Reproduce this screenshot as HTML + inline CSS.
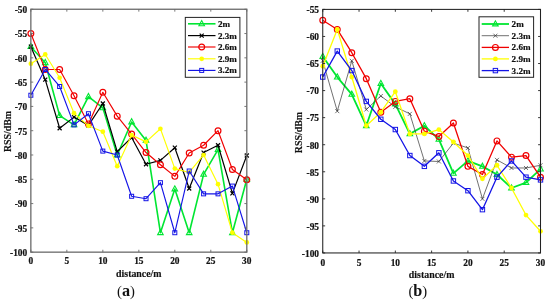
<!DOCTYPE html>
<html><head><meta charset="utf-8"><title>RSS vs distance</title>
<style>
html,body{margin:0;padding:0;background:#fff}
svg{display:block}
text{font-family:"Liberation Serif",serif;fill:#111}
.tk{font-size:9.4px;font-weight:bold;stroke:#111;stroke-width:0.2px}
.lg{font-size:9.1px;font-weight:bold;stroke:#111;stroke-width:0.2px}
.lb{font-size:9.9px;font-weight:bold;stroke:#111;stroke-width:0.15px}
.cp{font-size:14.7px}
</style></head><body>
<svg width="550" height="302" viewBox="0 0 550 302">
<rect width="550" height="302" fill="#fff"/>
<g>
<polyline points="30.85,46.66 45.25,62.69 59.64,115.64 74.04,124.87 88.44,96.69 102.83,107.87 117.23,154.99 131.63,121.96 146.02,140.42 160.42,232.72 174.82,189.00 189.21,232.72 203.61,174.42 218.01,149.65 232.40,232.72 246.80,179.28" fill="none" stroke="#00e632" stroke-width="1.6" stroke-linejoin="round"/>
<path d="M28.05 48.56L33.65 48.56L30.85 43.46Z" fill="none" stroke="#00e632" stroke-width="1.1"/>
<path d="M42.45 64.59L48.05 64.59L45.25 59.49Z" fill="none" stroke="#00e632" stroke-width="1.1"/>
<path d="M56.84 117.54L62.44 117.54L59.64 112.44Z" fill="none" stroke="#00e632" stroke-width="1.1"/>
<path d="M71.24 126.77L76.84 126.77L74.04 121.67Z" fill="none" stroke="#00e632" stroke-width="1.1"/>
<path d="M85.64 98.59L91.24 98.59L88.44 93.49Z" fill="none" stroke="#00e632" stroke-width="1.1"/>
<path d="M100.03 109.77L105.63 109.77L102.83 104.67Z" fill="none" stroke="#00e632" stroke-width="1.1"/>
<path d="M114.43 156.89L120.03 156.89L117.23 151.79Z" fill="none" stroke="#00e632" stroke-width="1.1"/>
<path d="M128.83 123.86L134.43 123.86L131.63 118.76Z" fill="none" stroke="#00e632" stroke-width="1.1"/>
<path d="M143.22 142.32L148.82 142.32L146.02 137.22Z" fill="none" stroke="#00e632" stroke-width="1.1"/>
<path d="M157.62 234.62L163.22 234.62L160.42 229.52Z" fill="none" stroke="#00e632" stroke-width="1.1"/>
<path d="M172.02 190.90L177.62 190.90L174.82 185.80Z" fill="none" stroke="#00e632" stroke-width="1.1"/>
<path d="M186.41 234.62L192.01 234.62L189.21 229.52Z" fill="none" stroke="#00e632" stroke-width="1.1"/>
<path d="M200.81 176.32L206.41 176.32L203.61 171.22Z" fill="none" stroke="#00e632" stroke-width="1.1"/>
<path d="M215.21 151.55L220.81 151.55L218.01 146.45Z" fill="none" stroke="#00e632" stroke-width="1.1"/>
<path d="M229.60 234.62L235.20 234.62L232.40 229.52Z" fill="none" stroke="#00e632" stroke-width="1.1"/>
<path d="M244.00 181.18L249.60 181.18L246.80 176.08Z" fill="none" stroke="#00e632" stroke-width="1.1"/>
<polyline points="30.85,46.66 45.25,79.69 59.64,128.27 74.04,117.10 88.44,125.36 102.83,103.50 117.23,151.59 131.63,137.50 146.02,164.22 160.42,160.33 174.82,147.70 189.21,188.51 203.61,152.56 218.01,145.27 232.40,193.37 246.80,155.48" fill="none" stroke="#000" stroke-width="1.2" stroke-linejoin="round"/>
<path d="M28.85 44.66L32.85 48.66M28.85 48.66L32.85 44.66" fill="none" stroke="#000" stroke-width="1.2"/>
<path d="M43.25 77.69L47.25 81.69M43.25 81.69L47.25 77.69" fill="none" stroke="#000" stroke-width="1.2"/>
<path d="M57.64 126.27L61.64 130.27M57.64 130.27L61.64 126.27" fill="none" stroke="#000" stroke-width="1.2"/>
<path d="M72.04 115.10L76.04 119.10M72.04 119.10L76.04 115.10" fill="none" stroke="#000" stroke-width="1.2"/>
<path d="M86.44 123.36L90.44 127.36M86.44 127.36L90.44 123.36" fill="none" stroke="#000" stroke-width="1.2"/>
<path d="M100.83 101.50L104.83 105.50M100.83 105.50L104.83 101.50" fill="none" stroke="#000" stroke-width="1.2"/>
<path d="M115.23 149.59L119.23 153.59M115.23 153.59L119.23 149.59" fill="none" stroke="#000" stroke-width="1.2"/>
<path d="M129.63 135.50L133.63 139.50M129.63 139.50L133.63 135.50" fill="none" stroke="#000" stroke-width="1.2"/>
<path d="M144.02 162.22L148.02 166.22M144.02 166.22L148.02 162.22" fill="none" stroke="#000" stroke-width="1.2"/>
<path d="M158.42 158.33L162.42 162.33M158.42 162.33L162.42 158.33" fill="none" stroke="#000" stroke-width="1.2"/>
<path d="M172.82 145.70L176.82 149.70M172.82 149.70L176.82 145.70" fill="none" stroke="#000" stroke-width="1.2"/>
<path d="M187.21 186.51L191.21 190.51M187.21 190.51L191.21 186.51" fill="none" stroke="#000" stroke-width="1.2"/>
<path d="M201.61 150.56L205.61 154.56M201.61 154.56L205.61 150.56" fill="none" stroke="#000" stroke-width="1.2"/>
<path d="M216.01 143.27L220.01 147.27M216.01 147.27L220.01 143.27" fill="none" stroke="#000" stroke-width="1.2"/>
<path d="M230.40 191.37L234.40 195.37M230.40 195.37L234.40 191.37" fill="none" stroke="#000" stroke-width="1.2"/>
<path d="M244.80 153.48L248.80 157.48M244.80 157.48L248.80 153.48" fill="none" stroke="#000" stroke-width="1.2"/>
<polyline points="30.85,33.54 45.25,69.49 59.64,69.49 74.04,95.72 88.44,123.90 102.83,92.32 117.23,116.13 131.63,134.10 146.02,152.56 160.42,164.71 174.82,176.37 189.21,153.05 203.61,145.27 218.01,130.70 232.40,169.56 246.80,179.77" fill="none" stroke="#f00000" stroke-width="1.15" stroke-linejoin="round"/>
<circle cx="30.85" cy="33.54" r="2.9" fill="none" stroke="#f00000" stroke-width="1.2"/>
<circle cx="45.25" cy="69.49" r="2.9" fill="none" stroke="#f00000" stroke-width="1.2"/>
<circle cx="59.64" cy="69.49" r="2.9" fill="none" stroke="#f00000" stroke-width="1.2"/>
<circle cx="74.04" cy="95.72" r="2.9" fill="none" stroke="#f00000" stroke-width="1.2"/>
<circle cx="88.44" cy="123.90" r="2.9" fill="none" stroke="#f00000" stroke-width="1.2"/>
<circle cx="102.83" cy="92.32" r="2.9" fill="none" stroke="#f00000" stroke-width="1.2"/>
<circle cx="117.23" cy="116.13" r="2.9" fill="none" stroke="#f00000" stroke-width="1.2"/>
<circle cx="131.63" cy="134.10" r="2.9" fill="none" stroke="#f00000" stroke-width="1.2"/>
<circle cx="146.02" cy="152.56" r="2.9" fill="none" stroke="#f00000" stroke-width="1.2"/>
<circle cx="160.42" cy="164.71" r="2.9" fill="none" stroke="#f00000" stroke-width="1.2"/>
<circle cx="174.82" cy="176.37" r="2.9" fill="none" stroke="#f00000" stroke-width="1.2"/>
<circle cx="189.21" cy="153.05" r="2.9" fill="none" stroke="#f00000" stroke-width="1.2"/>
<circle cx="203.61" cy="145.27" r="2.9" fill="none" stroke="#f00000" stroke-width="1.2"/>
<circle cx="218.01" cy="130.70" r="2.9" fill="none" stroke="#f00000" stroke-width="1.2"/>
<circle cx="232.40" cy="169.56" r="2.9" fill="none" stroke="#f00000" stroke-width="1.2"/>
<circle cx="246.80" cy="179.77" r="2.9" fill="none" stroke="#f00000" stroke-width="1.2"/>
<polyline points="30.85,63.66 45.25,54.43 59.64,77.75 74.04,113.21 88.44,125.84 102.83,131.67 117.23,166.16 131.63,135.07 146.02,141.87 160.42,128.76 174.82,168.59 189.21,172.48 203.61,154.99 218.01,184.14 232.40,232.72 246.80,242.43" fill="none" stroke="#ffff00" stroke-width="1.15" stroke-linejoin="round"/>
<circle cx="30.85" cy="63.66" r="2.35" fill="#ffff00"/>
<circle cx="45.25" cy="54.43" r="2.35" fill="#ffff00"/>
<circle cx="59.64" cy="77.75" r="2.35" fill="#ffff00"/>
<circle cx="74.04" cy="113.21" r="2.35" fill="#ffff00"/>
<circle cx="88.44" cy="125.84" r="2.35" fill="#ffff00"/>
<circle cx="102.83" cy="131.67" r="2.35" fill="#ffff00"/>
<circle cx="117.23" cy="166.16" r="2.35" fill="#ffff00"/>
<circle cx="131.63" cy="135.07" r="2.35" fill="#ffff00"/>
<circle cx="146.02" cy="141.87" r="2.35" fill="#ffff00"/>
<circle cx="160.42" cy="128.76" r="2.35" fill="#ffff00"/>
<circle cx="174.82" cy="168.59" r="2.35" fill="#ffff00"/>
<circle cx="189.21" cy="172.48" r="2.35" fill="#ffff00"/>
<circle cx="203.61" cy="154.99" r="2.35" fill="#ffff00"/>
<circle cx="218.01" cy="184.14" r="2.35" fill="#ffff00"/>
<circle cx="232.40" cy="232.72" r="2.35" fill="#ffff00"/>
<circle cx="246.80" cy="242.43" r="2.35" fill="#ffff00"/>
<polyline points="30.85,95.24 45.25,69.49 59.64,86.49 74.04,124.87 88.44,113.70 102.83,151.10 117.23,154.99 131.63,196.28 146.02,198.71 160.42,182.68 174.82,232.72 189.21,171.02 203.61,193.85 218.01,193.85 232.40,186.08 246.80,232.72" fill="none" stroke="#1414e6" stroke-width="1.15" stroke-linejoin="round"/>
<rect x="28.85" y="93.24" width="4.00" height="4.00" fill="none" stroke="#1414e6" stroke-width="1"/>
<rect x="43.25" y="67.49" width="4.00" height="4.00" fill="none" stroke="#1414e6" stroke-width="1"/>
<rect x="57.64" y="84.49" width="4.00" height="4.00" fill="none" stroke="#1414e6" stroke-width="1"/>
<rect x="72.04" y="122.87" width="4.00" height="4.00" fill="none" stroke="#1414e6" stroke-width="1"/>
<rect x="86.44" y="111.70" width="4.00" height="4.00" fill="none" stroke="#1414e6" stroke-width="1"/>
<rect x="100.83" y="149.10" width="4.00" height="4.00" fill="none" stroke="#1414e6" stroke-width="1"/>
<rect x="115.23" y="152.99" width="4.00" height="4.00" fill="none" stroke="#1414e6" stroke-width="1"/>
<rect x="129.63" y="194.28" width="4.00" height="4.00" fill="none" stroke="#1414e6" stroke-width="1"/>
<rect x="144.02" y="196.71" width="4.00" height="4.00" fill="none" stroke="#1414e6" stroke-width="1"/>
<rect x="158.42" y="180.68" width="4.00" height="4.00" fill="none" stroke="#1414e6" stroke-width="1"/>
<rect x="172.82" y="230.72" width="4.00" height="4.00" fill="none" stroke="#1414e6" stroke-width="1"/>
<rect x="187.21" y="169.02" width="4.00" height="4.00" fill="none" stroke="#1414e6" stroke-width="1"/>
<rect x="201.61" y="191.85" width="4.00" height="4.00" fill="none" stroke="#1414e6" stroke-width="1"/>
<rect x="216.01" y="191.85" width="4.00" height="4.00" fill="none" stroke="#1414e6" stroke-width="1"/>
<rect x="230.40" y="184.08" width="4.00" height="4.00" fill="none" stroke="#1414e6" stroke-width="1"/>
<rect x="244.80" y="230.72" width="4.00" height="4.00" fill="none" stroke="#1414e6" stroke-width="1"/>
<rect x="30.85" y="9.25" width="215.95" height="242.90" fill="none" stroke="#6a6a6a" stroke-width="1.3"/>
<text x="30.85" y="264.15" text-anchor="middle" class="tk">0</text>
<text x="66.84" y="264.15" text-anchor="middle" class="tk">5</text>
<text x="102.83" y="264.15" text-anchor="middle" class="tk">10</text>
<text x="138.83" y="264.15" text-anchor="middle" class="tk">15</text>
<text x="174.82" y="264.15" text-anchor="middle" class="tk">20</text>
<text x="210.81" y="264.15" text-anchor="middle" class="tk">25</text>
<text x="246.80" y="264.15" text-anchor="middle" class="tk">30</text>
<text x="27.25" y="255.95" text-anchor="end" class="tk">-100</text>
<text x="27.25" y="231.66" text-anchor="end" class="tk">-95</text>
<text x="27.25" y="207.37" text-anchor="end" class="tk">-90</text>
<text x="27.25" y="183.08" text-anchor="end" class="tk">-85</text>
<text x="27.25" y="158.79" text-anchor="end" class="tk">-80</text>
<text x="27.25" y="134.50" text-anchor="end" class="tk">-75</text>
<text x="27.25" y="110.21" text-anchor="end" class="tk">-70</text>
<text x="27.25" y="85.92" text-anchor="end" class="tk">-65</text>
<text x="27.25" y="61.63" text-anchor="end" class="tk">-60</text>
<text x="27.25" y="37.34" text-anchor="end" class="tk">-55</text>
<text x="27.25" y="13.05" text-anchor="end" class="tk">-50</text>
<path d="M30.85 252.15v-2.4M30.85 9.25v2.4M66.84 252.15v-2.4M66.84 9.25v2.4M102.83 252.15v-2.4M102.83 9.25v2.4M138.83 252.15v-2.4M138.83 9.25v2.4M174.82 252.15v-2.4M174.82 9.25v2.4M210.81 252.15v-2.4M210.81 9.25v2.4M246.80 252.15v-2.4M246.80 9.25v2.4M30.85 252.15h2.4M246.8 252.15h-2.4M30.85 227.86h2.4M246.8 227.86h-2.4M30.85 203.57h2.4M246.8 203.57h-2.4M30.85 179.28h2.4M246.8 179.28h-2.4M30.85 154.99h2.4M246.8 154.99h-2.4M30.85 130.70h2.4M246.8 130.70h-2.4M30.85 106.41h2.4M246.8 106.41h-2.4M30.85 82.12h2.4M246.8 82.12h-2.4M30.85 57.83h2.4M246.8 57.83h-2.4M30.85 33.54h2.4M246.8 33.54h-2.4M30.85 9.25h2.4M246.8 9.25h-2.4" stroke="#6a6a6a" stroke-width="0.9" fill="none"/>
<text x="138.83" y="276.9" text-anchor="middle" class="lb">distance/m</text>
<text transform="translate(11.3 131.50) rotate(-90)" text-anchor="middle" class="lb">RSS/dBm</text>
<text x="126" y="295.9" text-anchor="middle" class="cp">(<tspan font-weight="bold" font-size="16.2">a</tspan>)</text>
<rect x="185.3" y="17.4" width="54.60" height="59.90" fill="#fff" stroke="#222" stroke-width="1"/>
<path d="M188 23.8H215.5" stroke="#00e632" stroke-width="1.6"/>
<path d="M198.90 25.70L204.50 25.70L201.70 20.60Z" fill="none" stroke="#00e632" stroke-width="1.1"/>
<text x="218" y="26.80" class="lg">2m</text>
<path d="M188 35.6H215.5" stroke="#000" stroke-width="1.2"/>
<path d="M199.70 33.60L203.70 37.60M199.70 37.60L203.70 33.60" fill="none" stroke="#000" stroke-width="1.2"/>
<text x="218" y="38.60" class="lg">2.3m</text>
<path d="M188 47.0H215.5" stroke="#f00000" stroke-width="1.15"/>
<circle cx="201.70" cy="47.00" r="2.9" fill="none" stroke="#f00000" stroke-width="1.2"/>
<text x="218" y="50.00" class="lg">2.6m</text>
<path d="M188 58.8H215.5" stroke="#ffff00" stroke-width="1.15"/>
<circle cx="201.70" cy="58.80" r="2.35" fill="#ffff00"/>
<text x="218" y="61.80" class="lg">2.9m</text>
<path d="M188 70.4H215.5" stroke="#1414e6" stroke-width="1.15"/>
<rect x="199.70" y="68.40" width="4.00" height="4.00" fill="none" stroke="#1414e6" stroke-width="1"/>
<text x="218" y="73.40" class="lg">3.2m</text>
</g>
<g>
<polyline points="322.75,56.49 337.27,77.05 351.78,94.37 366.30,125.76 380.82,83.55 395.33,104.11 409.85,133.88 424.37,125.76 438.88,139.29 453.40,173.39 467.92,160.94 482.43,166.35 496.95,174.47 511.47,188.00 525.98,182.59 540.50,169.06" fill="none" stroke="#00e632" stroke-width="1.8" stroke-linejoin="round"/>
<path d="M319.95 58.39L325.55 58.39L322.75 53.29Z" fill="none" stroke="#00e632" stroke-width="1.1"/>
<path d="M334.47 78.95L340.07 78.95L337.27 73.85Z" fill="none" stroke="#00e632" stroke-width="1.1"/>
<path d="M348.98 96.27L354.58 96.27L351.78 91.17Z" fill="none" stroke="#00e632" stroke-width="1.1"/>
<path d="M363.50 127.66L369.10 127.66L366.30 122.56Z" fill="none" stroke="#00e632" stroke-width="1.1"/>
<path d="M378.02 85.45L383.62 85.45L380.82 80.35Z" fill="none" stroke="#00e632" stroke-width="1.1"/>
<path d="M392.53 106.01L398.13 106.01L395.33 100.91Z" fill="none" stroke="#00e632" stroke-width="1.1"/>
<path d="M407.05 135.78L412.65 135.78L409.85 130.68Z" fill="none" stroke="#00e632" stroke-width="1.1"/>
<path d="M421.57 127.66L427.17 127.66L424.37 122.56Z" fill="none" stroke="#00e632" stroke-width="1.1"/>
<path d="M436.08 141.19L441.68 141.19L438.88 136.09Z" fill="none" stroke="#00e632" stroke-width="1.1"/>
<path d="M450.60 175.29L456.20 175.29L453.40 170.19Z" fill="none" stroke="#00e632" stroke-width="1.1"/>
<path d="M465.12 162.84L470.72 162.84L467.92 157.74Z" fill="none" stroke="#00e632" stroke-width="1.1"/>
<path d="M479.63 168.25L485.23 168.25L482.43 163.15Z" fill="none" stroke="#00e632" stroke-width="1.1"/>
<path d="M494.15 176.37L499.75 176.37L496.95 171.27Z" fill="none" stroke="#00e632" stroke-width="1.1"/>
<path d="M508.67 189.90L514.27 189.90L511.47 184.80Z" fill="none" stroke="#00e632" stroke-width="1.1"/>
<path d="M523.18 184.49L528.78 184.49L525.98 179.39Z" fill="none" stroke="#00e632" stroke-width="1.1"/>
<path d="M537.70 170.96L543.30 170.96L540.50 165.86Z" fill="none" stroke="#00e632" stroke-width="1.1"/>
<polyline points="322.75,60.82 337.27,111.15 351.78,60.82 366.30,109.53 380.82,96.00 395.33,106.82 409.85,113.86 424.37,160.94 438.88,161.48 453.40,143.08 467.92,147.95 482.43,198.83 496.95,159.86 511.47,167.98 525.98,167.98 540.50,165.27" fill="none" stroke="#333" stroke-width="0.7" stroke-linejoin="round"/>
<path d="M320.75 58.82L324.75 62.82M320.75 62.82L324.75 58.82" fill="none" stroke="#333" stroke-width="0.7"/>
<path d="M335.27 109.15L339.27 113.15M335.27 113.15L339.27 109.15" fill="none" stroke="#333" stroke-width="0.7"/>
<path d="M349.78 58.82L353.78 62.82M349.78 62.82L353.78 58.82" fill="none" stroke="#333" stroke-width="0.7"/>
<path d="M364.30 107.53L368.30 111.53M364.30 111.53L368.30 107.53" fill="none" stroke="#333" stroke-width="0.7"/>
<path d="M378.82 94.00L382.82 98.00M378.82 98.00L382.82 94.00" fill="none" stroke="#333" stroke-width="0.7"/>
<path d="M393.33 104.82L397.33 108.82M393.33 108.82L397.33 104.82" fill="none" stroke="#333" stroke-width="0.7"/>
<path d="M407.85 111.86L411.85 115.86M407.85 115.86L411.85 111.86" fill="none" stroke="#333" stroke-width="0.7"/>
<path d="M422.37 158.94L426.37 162.94M422.37 162.94L426.37 158.94" fill="none" stroke="#333" stroke-width="0.7"/>
<path d="M436.88 159.48L440.88 163.48M436.88 163.48L440.88 159.48" fill="none" stroke="#333" stroke-width="0.7"/>
<path d="M451.40 141.08L455.40 145.08M451.40 145.08L455.40 141.08" fill="none" stroke="#333" stroke-width="0.7"/>
<path d="M465.92 145.95L469.92 149.95M465.92 149.95L469.92 145.95" fill="none" stroke="#333" stroke-width="0.7"/>
<path d="M480.43 196.83L484.43 200.83M480.43 200.83L484.43 196.83" fill="none" stroke="#333" stroke-width="0.7"/>
<path d="M494.95 157.86L498.95 161.86M494.95 161.86L498.95 157.86" fill="none" stroke="#333" stroke-width="0.7"/>
<path d="M509.47 165.98L513.47 169.98M509.47 169.98L513.47 165.98" fill="none" stroke="#333" stroke-width="0.7"/>
<path d="M523.98 165.98L527.98 169.98M523.98 169.98L527.98 165.98" fill="none" stroke="#333" stroke-width="0.7"/>
<path d="M538.50 163.27L542.50 167.27M538.50 167.27L542.50 163.27" fill="none" stroke="#333" stroke-width="0.7"/>
<polyline points="322.75,20.22 337.27,29.43 351.78,52.70 366.30,78.68 380.82,112.23 395.33,101.41 409.85,98.70 424.37,131.17 438.88,136.59 453.40,123.06 467.92,166.35 482.43,174.47 496.95,140.92 511.47,157.15 525.98,155.53 540.50,177.18" fill="none" stroke="#f00000" stroke-width="1.3" stroke-linejoin="round"/>
<circle cx="322.75" cy="20.22" r="2.9" fill="none" stroke="#f00000" stroke-width="1.2"/>
<circle cx="337.27" cy="29.43" r="2.9" fill="none" stroke="#f00000" stroke-width="1.2"/>
<circle cx="351.78" cy="52.70" r="2.9" fill="none" stroke="#f00000" stroke-width="1.2"/>
<circle cx="366.30" cy="78.68" r="2.9" fill="none" stroke="#f00000" stroke-width="1.2"/>
<circle cx="380.82" cy="112.23" r="2.9" fill="none" stroke="#f00000" stroke-width="1.2"/>
<circle cx="395.33" cy="101.41" r="2.9" fill="none" stroke="#f00000" stroke-width="1.2"/>
<circle cx="409.85" cy="98.70" r="2.9" fill="none" stroke="#f00000" stroke-width="1.2"/>
<circle cx="424.37" cy="131.17" r="2.9" fill="none" stroke="#f00000" stroke-width="1.2"/>
<circle cx="438.88" cy="136.59" r="2.9" fill="none" stroke="#f00000" stroke-width="1.2"/>
<circle cx="453.40" cy="123.06" r="2.9" fill="none" stroke="#f00000" stroke-width="1.2"/>
<circle cx="467.92" cy="166.35" r="2.9" fill="none" stroke="#f00000" stroke-width="1.2"/>
<circle cx="482.43" cy="174.47" r="2.9" fill="none" stroke="#f00000" stroke-width="1.2"/>
<circle cx="496.95" cy="140.92" r="2.9" fill="none" stroke="#f00000" stroke-width="1.2"/>
<circle cx="511.47" cy="157.15" r="2.9" fill="none" stroke="#f00000" stroke-width="1.2"/>
<circle cx="525.98" cy="155.53" r="2.9" fill="none" stroke="#f00000" stroke-width="1.2"/>
<circle cx="540.50" cy="177.18" r="2.9" fill="none" stroke="#f00000" stroke-width="1.2"/>
<polyline points="322.75,66.23 337.27,29.43 351.78,77.05 366.30,125.76 380.82,112.23 395.33,91.67 409.85,133.88 424.37,133.88 438.88,129.55 453.40,142.00 467.92,155.53 482.43,178.80 496.95,165.27 511.47,188.00 525.98,215.06 540.50,231.30" fill="none" stroke="#ffff00" stroke-width="1.3" stroke-linejoin="round"/>
<circle cx="322.75" cy="66.23" r="2.4" fill="#ffff00"/>
<circle cx="337.27" cy="29.43" r="2.4" fill="#ffff00"/>
<circle cx="351.78" cy="77.05" r="2.4" fill="#ffff00"/>
<circle cx="366.30" cy="125.76" r="2.4" fill="#ffff00"/>
<circle cx="380.82" cy="112.23" r="2.4" fill="#ffff00"/>
<circle cx="395.33" cy="91.67" r="2.4" fill="#ffff00"/>
<circle cx="409.85" cy="133.88" r="2.4" fill="#ffff00"/>
<circle cx="424.37" cy="133.88" r="2.4" fill="#ffff00"/>
<circle cx="438.88" cy="129.55" r="2.4" fill="#ffff00"/>
<circle cx="453.40" cy="142.00" r="2.4" fill="#ffff00"/>
<circle cx="467.92" cy="155.53" r="2.4" fill="#ffff00"/>
<circle cx="482.43" cy="178.80" r="2.4" fill="#ffff00"/>
<circle cx="496.95" cy="165.27" r="2.4" fill="#ffff00"/>
<circle cx="511.47" cy="188.00" r="2.4" fill="#ffff00"/>
<circle cx="525.98" cy="215.06" r="2.4" fill="#ffff00"/>
<circle cx="540.50" cy="231.30" r="2.4" fill="#ffff00"/>
<polyline points="322.75,77.05 337.27,51.07 351.78,70.56 366.30,101.41 380.82,119.27 395.33,129.55 409.85,155.53 424.37,166.35 438.88,152.82 453.40,180.97 467.92,190.71 482.43,209.65 496.95,177.18 511.47,160.94 525.98,177.18 540.50,179.88" fill="none" stroke="#1414e6" stroke-width="1.3" stroke-linejoin="round"/>
<rect x="320.55" y="74.85" width="4.40" height="4.40" fill="none" stroke="#1414e6" stroke-width="1"/>
<rect x="335.07" y="48.87" width="4.40" height="4.40" fill="none" stroke="#1414e6" stroke-width="1"/>
<rect x="349.58" y="68.36" width="4.40" height="4.40" fill="none" stroke="#1414e6" stroke-width="1"/>
<rect x="364.10" y="99.21" width="4.40" height="4.40" fill="none" stroke="#1414e6" stroke-width="1"/>
<rect x="378.62" y="117.07" width="4.40" height="4.40" fill="none" stroke="#1414e6" stroke-width="1"/>
<rect x="393.13" y="127.35" width="4.40" height="4.40" fill="none" stroke="#1414e6" stroke-width="1"/>
<rect x="407.65" y="153.33" width="4.40" height="4.40" fill="none" stroke="#1414e6" stroke-width="1"/>
<rect x="422.17" y="164.15" width="4.40" height="4.40" fill="none" stroke="#1414e6" stroke-width="1"/>
<rect x="436.68" y="150.62" width="4.40" height="4.40" fill="none" stroke="#1414e6" stroke-width="1"/>
<rect x="451.20" y="178.77" width="4.40" height="4.40" fill="none" stroke="#1414e6" stroke-width="1"/>
<rect x="465.72" y="188.51" width="4.40" height="4.40" fill="none" stroke="#1414e6" stroke-width="1"/>
<rect x="480.23" y="207.45" width="4.40" height="4.40" fill="none" stroke="#1414e6" stroke-width="1"/>
<rect x="494.75" y="174.98" width="4.40" height="4.40" fill="none" stroke="#1414e6" stroke-width="1"/>
<rect x="509.27" y="158.74" width="4.40" height="4.40" fill="none" stroke="#1414e6" stroke-width="1"/>
<rect x="523.78" y="174.98" width="4.40" height="4.40" fill="none" stroke="#1414e6" stroke-width="1"/>
<rect x="538.30" y="177.69" width="4.40" height="4.40" fill="none" stroke="#1414e6" stroke-width="1"/>
<rect x="322.75" y="9.4" width="217.75" height="243.55" fill="none" stroke="#222" stroke-width="1.05"/>
<text x="322.75" y="265.85" text-anchor="middle" class="tk">0</text>
<text x="359.04" y="265.85" text-anchor="middle" class="tk">5</text>
<text x="395.33" y="265.85" text-anchor="middle" class="tk">10</text>
<text x="431.62" y="265.85" text-anchor="middle" class="tk">15</text>
<text x="467.92" y="265.85" text-anchor="middle" class="tk">20</text>
<text x="504.21" y="265.85" text-anchor="middle" class="tk">25</text>
<text x="540.50" y="265.85" text-anchor="middle" class="tk">30</text>
<text x="319.05" y="256.75" text-anchor="end" class="tk">-100</text>
<text x="319.05" y="229.69" text-anchor="end" class="tk">-95</text>
<text x="319.05" y="202.63" text-anchor="end" class="tk">-90</text>
<text x="319.05" y="175.57" text-anchor="end" class="tk">-85</text>
<text x="319.05" y="148.51" text-anchor="end" class="tk">-80</text>
<text x="319.05" y="121.44" text-anchor="end" class="tk">-75</text>
<text x="319.05" y="94.38" text-anchor="end" class="tk">-70</text>
<text x="319.05" y="67.32" text-anchor="end" class="tk">-65</text>
<text x="319.05" y="40.26" text-anchor="end" class="tk">-60</text>
<text x="319.05" y="13.20" text-anchor="end" class="tk">-55</text>
<path d="M322.75 252.95v-2.4M322.75 9.4v2.4M359.04 252.95v-2.4M359.04 9.4v2.4M395.33 252.95v-2.4M395.33 9.4v2.4M431.62 252.95v-2.4M431.62 9.4v2.4M467.92 252.95v-2.4M467.92 9.4v2.4M504.21 252.95v-2.4M504.21 9.4v2.4M540.50 252.95v-2.4M540.50 9.4v2.4M322.75 252.95h2.4M540.5 252.95h-2.4M322.75 225.89h2.4M540.5 225.89h-2.4M322.75 198.83h2.4M540.5 198.83h-2.4M322.75 171.77h2.4M540.5 171.77h-2.4M322.75 144.71h2.4M540.5 144.71h-2.4M322.75 117.64h2.4M540.5 117.64h-2.4M322.75 90.58h2.4M540.5 90.58h-2.4M322.75 63.52h2.4M540.5 63.52h-2.4M322.75 36.46h2.4M540.5 36.46h-2.4M322.75 9.40h2.4M540.5 9.40h-2.4" stroke="#222" stroke-width="0.9" fill="none"/>
<text x="431.62" y="278.1" text-anchor="middle" class="lb">distance/m</text>
<text transform="translate(302.4 132.57) rotate(-90)" text-anchor="middle" class="lb">RSS/dBm</text>
<text x="417.8" y="295.9" text-anchor="middle" class="cp">(<tspan font-weight="bold" font-size="16.2">b</tspan>)</text>
<rect x="479" y="16.8" width="54.60" height="60.50" fill="#fff" stroke="#222" stroke-width="1"/>
<path d="M481.7 24H509" stroke="#00e632" stroke-width="1.8"/>
<path d="M492.60 25.90L498.20 25.90L495.40 20.80Z" fill="none" stroke="#00e632" stroke-width="1.1"/>
<text x="511.6" y="27.00" class="lg">2m</text>
<path d="M481.7 35.7H509" stroke="#333" stroke-width="0.7"/>
<path d="M493.40 33.70L497.40 37.70M493.40 37.70L497.40 33.70" fill="none" stroke="#333" stroke-width="0.7"/>
<text x="511.6" y="38.70" class="lg">2.3m</text>
<path d="M481.7 47.4H509" stroke="#f00000" stroke-width="1.3"/>
<circle cx="495.40" cy="47.40" r="2.9" fill="none" stroke="#f00000" stroke-width="1.2"/>
<text x="511.6" y="50.40" class="lg">2.6m</text>
<path d="M481.7 58.9H509" stroke="#ffff00" stroke-width="1.3"/>
<circle cx="495.40" cy="58.90" r="2.4" fill="#ffff00"/>
<text x="511.6" y="61.90" class="lg">2.9m</text>
<path d="M481.7 70.6H509" stroke="#1414e6" stroke-width="1.3"/>
<rect x="493.20" y="68.40" width="4.40" height="4.40" fill="none" stroke="#1414e6" stroke-width="1"/>
<text x="511.6" y="73.60" class="lg">3.2m</text>
</g>
</svg>
</body></html>
